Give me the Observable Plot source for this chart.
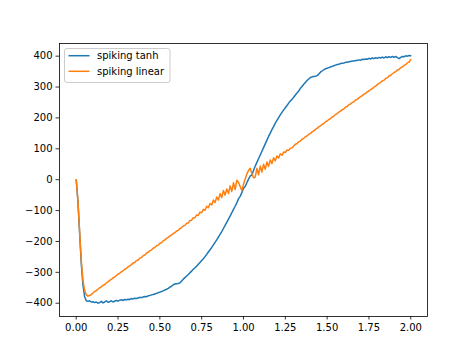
<!DOCTYPE html>
<html><head><meta charset="utf-8">
<script src="https://cdn.jsdelivr.net/npm/d3@7"></script>
<script src="https://cdn.jsdelivr.net/npm/@observablehq/plot@0.6"></script>
<style>body{margin:0;background:#fff} #chart{width:474px;height:355px}</style>
</head><body><div id="chart"></div>
<script>
const seriesNames = ["spiking tanh", "spiking linear"];
const seriesColors = ["#1f77b4", "#ff7f0e"];
const xStart = 0, xStep = 0.01;
const tanhValues = [
0,-70,-170,-270,-340,-378,-392,-394,-392,-396,
-395,-398,-396,-400,-398,-394,-399,-396,-392,-397,
-395,-392,-396,-393,-391,-393,-390,-389,-391,-388,
-389,-387,-388,-385,-386,-384,-385,-383,-381,-382,
-380,-378,-379,-376,-375,-373,-372,-370,-368,-366,
-364,-362,-360,-357,-355,-352,-348,-345,-340,-338,
-337,-336,-334,-328,-322,-317,-312,-307,-301,-296,
-290,-285,-280,-274,-268,-262,-256,-249,-242,-234,
-227,-219,-211,-203,-195,-186,-177,-168,-158,-148,
-138,-128,-118,-107,-96,-86,-75,-62,-54,-42,
-28,-22,-10,2,12,15,30,44,56,68,
80,92,104,116,128,140,151,162,172,183,
192,201,210,218,226,233,240,248,255,260,
267,274,281,287,296,302,309,315,321,326,
331,333,334,335,337,342,348,352,356,359,
361,363,365,367,369,371,373,374,376,377,
378,380,380,382,383,384,384,386,386,388,
387,390,389,391,390,393,391,394,392,395,
393,396,394,397,394,398,395,398,396,399,
396,399,395,392,396,399,398,401,400,402,
401];
const linearValues = [
0,-65,-165,-260,-325,-358,-372,-377,-375,-372,
-367,-362,-359,-355,-350,-347,-342,-340,-334,-331,
-326,-323,-318,-315,-310,-306,-303,-298,-295,-290,
-287,-282,-279,-275,-270,-268,-262,-260,-254,-252,
-246,-244,-238,-235,-230,-228,-222,-219,-214,-212,
-206,-204,-198,-195,-190,-187,-182,-179,-174,-172,
-166,-164,-158,-155,-150,-148,-141,-140,-132,-131,
-123,-123,-114,-115,-105,-107,-96,-99,-86,-91,
-77,-82,-66,-74,-56,-66,-45,-58,-35,-50,
-30,-45,-20,-38,-10,-32,-2,-8,-22,-35,
-15,2,18,30,37,20,6,8,37,16,
44,25,50,34,57,43,64,52,71,61,
77,70,84,79,90,88,96,95,102,103,
109,115,117,123,125,131,134,139,142,147,
150,155,158,163,166,171,174,179,182,187,
190,195,198,203,206,211,214,219,222,227,
229,235,237,243,245,250,252,258,260,265,
269,272,277,279,285,287,292,295,300,303,
308,312,315,320,322,328,330,336,338,343,
347,350,355,357,363,365,370,373,378,381,
389];
const xTicks = [0, 0.25, 0.5, 0.75, 1, 1.25, 1.5, 1.75, 2];
const yTicks = [-400, -300, -200, -100, 0, 100, 200, 300, 400];

const data = [];
[tanhValues, linearValues].forEach((vals, s) => {
  vals.forEach((v, i) => data.push({x: +(xStart + i * xStep).toFixed(2), y: v, series: seriesNames[s]}));
});

const plot = Plot.plot({
  width: 474, height: 355,
  marginLeft: 59, marginRight: 47, marginTop: 43, marginBottom: 39,
  style: {fontFamily: "DejaVu Sans", fontSize: "10px", color: "black", background: "white"},
  x: {domain: [-0.1, 2.1]},
  y: {domain: [-443, 441]},
  color: {domain: seriesNames, range: seriesColors},
  marks: [
    Plot.line(data, {x: "x", y: "y", z: "series", stroke: "series", strokeWidth: 1.5}),
    Plot.frame({stroke: "black", strokeWidth: 0.8}),
    Plot.axisX({ticks: xTicks, tickFormat: d3.format(".2f"), tickSize: 3.5, tickPadding: 3.5, label: null, strokeWidth: 0.8}),
    Plot.axisY({ticks: yTicks, tickFormat: d3.format("d"), tickSize: 3.5, tickPadding: 3.5, label: null, strokeWidth: 0.8})
  ]
});
document.getElementById("chart").appendChild(plot);

// legend (matplotlib-style, upper left inside axes)
const svg = d3.select(plot);
const lg = svg.append("g").attr("font-family", "DejaVu Sans").attr("font-size", 10).attr("text-anchor", "start");
lg.append("rect").attr("x", 64.5).attr("y", 48.5).attr("width", 105.5).attr("height", 34)
  .attr("rx", 2.5).attr("fill", "white").attr("fill-opacity", 0.8).attr("stroke", "#cccccc").attr("stroke-width", 1);
seriesNames.forEach((name, i) => {
  const cy = 55.7 + i * 15.6;
  lg.append("line").attr("x1", 68.5).attr("x2", 89.5).attr("y1", cy).attr("y2", cy)
    .attr("stroke", seriesColors[i]).attr("stroke-width", 1.5);
  lg.append("text").attr("x", 97).attr("y", cy + 3.6).attr("fill", "black").attr("text-anchor", "start").text(name);
});
</script>
</body></html>
